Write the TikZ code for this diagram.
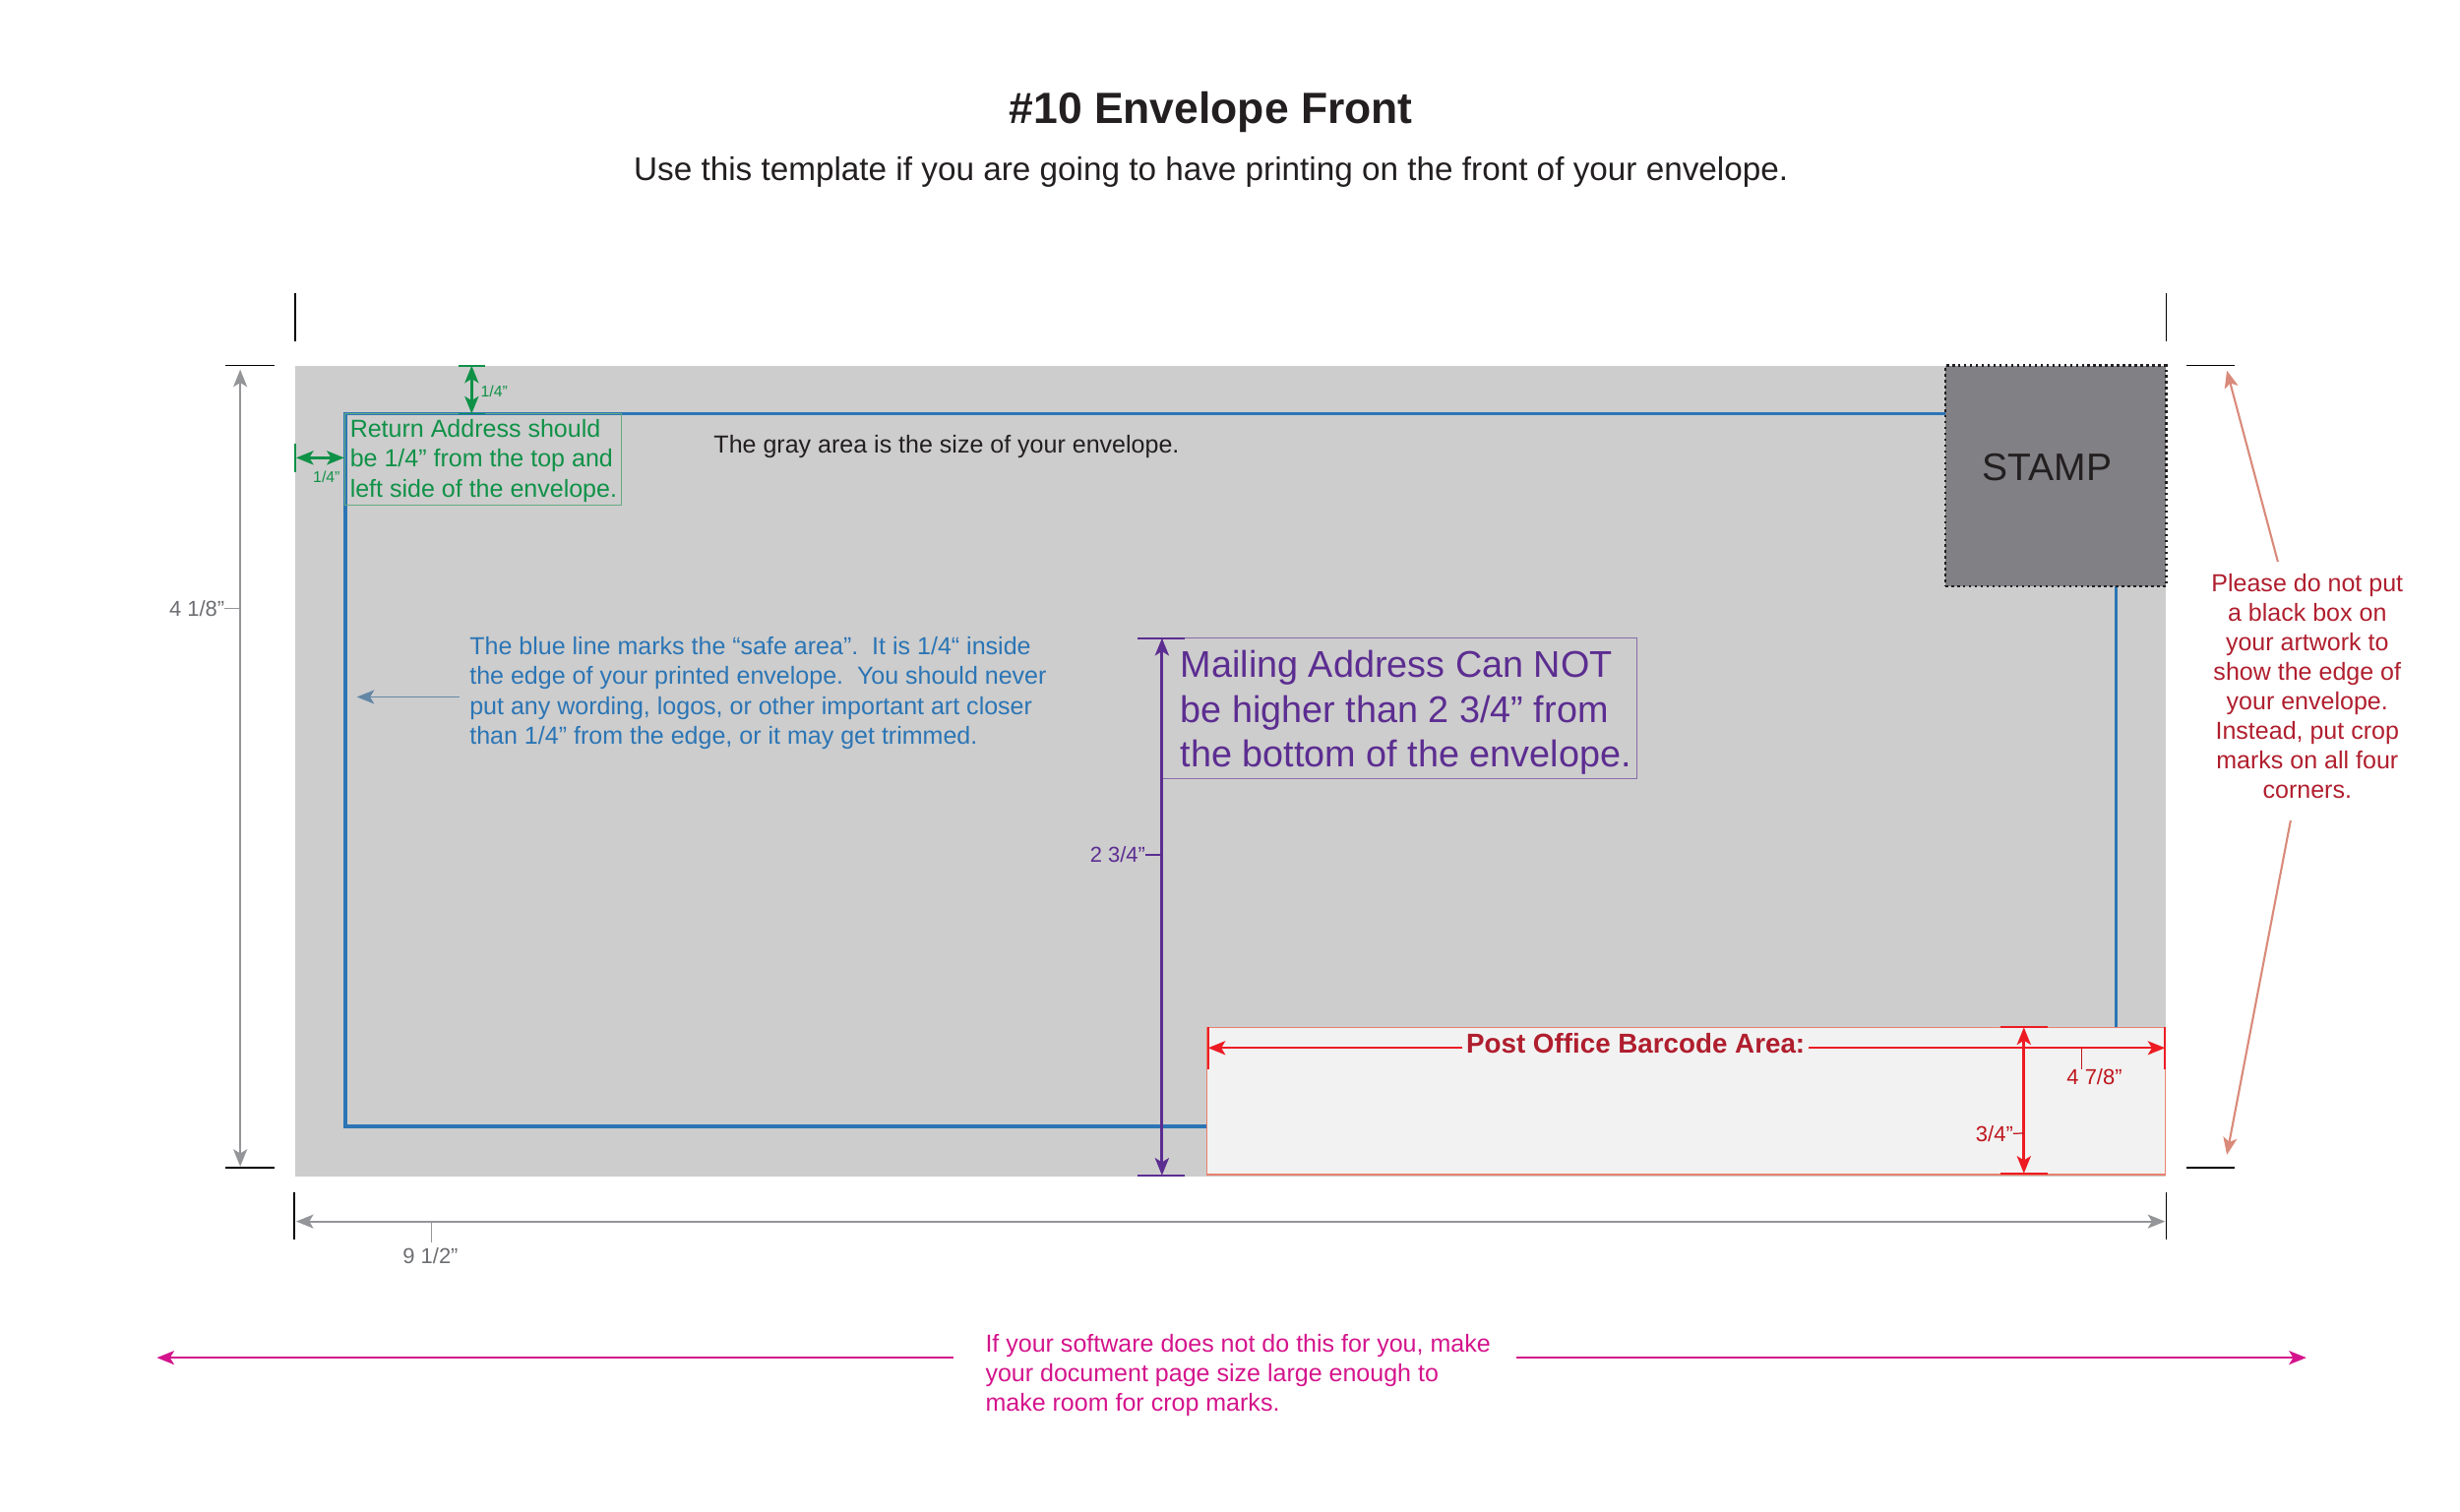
\documentclass[tikz,border=0pt]{standalone}
\usepackage{fontspec}
\setmainfont{Liberation Sans}
\usetikzlibrary{arrows.meta}
\definecolor{cgray}{HTML}{CDCDCD}
\definecolor{cstamp}{HTML}{808085}
\definecolor{cbar}{HTML}{F2F2F2}
\definecolor{cdim}{HTML}{939598}
\definecolor{cdimtxt}{HTML}{6D6E71}
\definecolor{cblue}{HTML}{2B75B5}
\definecolor{cgreen}{HTML}{0F9147}
\definecolor{cpurple}{HTML}{5C2D91}
\definecolor{cred}{HTML}{ED1C24}
\definecolor{cdred}{HTML}{B01E2E}
\definecolor{cpink}{HTML}{D4148C}
\definecolor{csalmon}{HTML}{D98A7A}
\definecolor{credline}{HTML}{E8806F}
\definecolor{cink}{HTML}{231F20}
\newcommand{\fz}[2]{\fontsize{#1pt}{#2pt}\selectfont}
\tikzset{
  x=0.009965cm,y=-0.009965cm,
  txt/.style={inner sep=0pt,outer sep=0pt},
  crop/.style={draw=black,line width=0.45pt},
  tip/.style={-{Stealth[length=5pt,width=4pt,inset=1.2pt]}},
  tips/.style={{Stealth[length=5pt,width=4pt,inset=1.2pt]}-{Stealth[length=5pt,width=4pt,inset=1.2pt]}},
  dimline/.style={draw=cdim,line width=0.6pt},
  thin tick/.style={line width=0.35pt},
}
\begin{document}
\begin{tikzpicture}
\useasboundingbox (0,0) rectangle (2508.78,1541.4);
% envelope
\node[txt,fill=cgray,minimum width=1907*0.28353pt,minimum height=827*0.28353pt,anchor=north west] (env) at (301,373) {};
% safe area line
\coordinate (bTL) at (352,422);
\coordinate (bTR) at (1985,422);
\coordinate (bBL) at (352,1149);
\coordinate (bBR) at (1231,1149);
\coordinate (bRT) at (2158,598);
\coordinate (bRB) at (2158,1048);
\draw[cblue,line width=1pt] (bTR) -- (bTL) -- (bBL) -- (bBR);
\draw[cblue,line width=1pt] (bRT) -- (bRB);
% stamp
\node[txt,fill=cstamp,draw=cink,densely dotted,line width=0.7pt,minimum width=225*0.28353pt,minimum height=225*0.28353pt,anchor=north west] (stampbox) at (1984,373) {};
\node[txt,anchor=west,text=cink,font=\fz{11.1}{13}] (stamp) at (2022,477) {STAMP};
% barcode
\node[txt,fill=cbar,draw=credline,line width=0.4pt,minimum width=977*0.28353pt,minimum height=150*0.28353pt,anchor=north west] (bar) at (1231,1048) {};
% crop marks
\coordinate (c1a) at (301,299); \coordinate (c1b) at (301,348);
\coordinate (c2a) at (2209,299); \coordinate (c2b) at (2209,348);
\coordinate (c3a) at (300,1216); \coordinate (c3b) at (300,1264);
\coordinate (c4a) at (2209,1216); \coordinate (c4b) at (2209,1264);
\coordinate (c5a) at (230,373); \coordinate (c5b) at (280,373);
\coordinate (c6a) at (230,1191); \coordinate (c6b) at (280,1191);
\coordinate (c7a) at (2230,373); \coordinate (c7b) at (2279,373);
\coordinate (c8a) at (2230,1191); \coordinate (c8b) at (2279,1191);
\foreach \n in {1,...,8} {\draw[crop] (c\n a) -- (c\n b);}
% title
\node[txt,text=cink,font=\bfseries\fz{12.65}{15}] (title) at (1235,114) {\#10 Envelope Front};
\node[txt,text=cink,font=\fz{9.47}{12}] (sub) at (1235,176) {Use this template if you are going to have printing on the front of your envelope.};
% gray text
\node[txt,anchor=west,text=cink,font=\fz{7.12}{9}] (graynote) at (728,456) {The gray area is the size of your envelope.};
% return address
\node[txt,anchor=north west,draw=cgreen!55!cgray,line width=0.3pt,minimum width=282*0.28353pt,minimum height=93*0.28353pt] (retbox) at (352,422) {};
\node[txt,anchor=west,align=left,text=cgreen,font=\fz{7.12}{8.65}] (ret) at (357,470) {Return Address should\\be 1/4” from the top and\\left side of the envelope.};
% green dims
\coordinate (gT) at (481,373); \coordinate (gB) at (481,422);
\coordinate (gTa) at (468,373); \coordinate (gTb) at (495,373);
\coordinate (gBa) at (468,422); \coordinate (gBb) at (495,422);
\draw[cgreen,line width=0.8pt,tips] (gT) -- (gB);
\draw[cgreen,line width=0.5pt] (gTa) -- (gTb);
\draw[cgreen,line width=0.5pt] (gBa) -- (gBb);
\node[txt,text=cgreen,font=\fz{4.5}{5}] (g1) at (504,399) {1/4”};
\coordinate (gL) at (302,467); \coordinate (gR) at (351,467);
\coordinate (gLa) at (301,453); \coordinate (gLb) at (301,482);
\draw[cgreen,line width=0.8pt,tips] (gL) -- (gR);
\draw[cgreen,line width=0.5pt] (gLa) -- (gLb);
\node[txt,text=cgreen,font=\fz{4.5}{5}] (g2) at (333,487) {1/4”};
% blue text
\node[txt,anchor=west,align=left,text=cblue,font=\fz{7.12}{8.65}] (bluetxt) at (479,707) {The blue line marks the “safe area”.\ \ It is 1/4“ inside\\the edge of your printed envelope.\ \ You should never\\put any wording, logos, or other important art closer\\than 1/4” from the edge, or it may get trimmed.};
\coordinate (bl1) at (469,711); \coordinate (bl2) at (364,711);
\draw[color=cblue!45!cdim,line width=0.5pt,tip] (bl1) -- (bl2);
% left dim
\coordinate (lT) at (245,377); \coordinate (lB) at (245,1190);
\draw[dimline,tips] (lT) -- (lB);
\node[txt,anchor=east,text=cdimtxt,font=\fz{6.25}{8}] (h) at (229,621) {4 1/8”};
\coordinate (lt) at (245,621);
\draw[cdim,thin tick] (h) -- (lt);
% bottom dim
\coordinate (wL) at (302,1246); \coordinate (wR) at (2208,1246);
\draw[dimline,tips] (wL) -- (wR);
\node[txt,text=cdimtxt,font=\fz{6.25}{8}] (w) at (439,1281) {9 1/2”};
\coordinate (wt) at (440,1246); \coordinate (wb) at (440,1267);
\draw[cdim,thin tick] (wt) -- (wb);
% mailing
\node[txt,anchor=north west,draw=cpurple!60!cgray,line width=0.3pt,minimum width=483*0.28353pt,minimum height=143*0.28353pt] (mailbox) at (1186,651) {};
\node[txt,anchor=west,align=left,text=cpurple,font=\fz{10.75}{13}] (mail) at (1204,727) {Mailing Address Can NOT\\be higher than 2 3/4” from\\the bottom of the envelope.};
\coordinate (pT) at (1185,651); \coordinate (pB) at (1185,1199);
\coordinate (pTa) at (1160,651); \coordinate (pTb) at (1208,651);
\coordinate (pBa) at (1160,1199); \coordinate (pBb) at (1208,1199);
\draw[cpurple,line width=0.9pt,tips] (pT) -- (pB);
\draw[cpurple,line width=0.5pt] (pTa) -- (pTb);
\draw[cpurple,line width=0.5pt] (pBa) -- (pBb);
\node[txt,anchor=east,text=cpurple,font=\fz{6.25}{8}] (m) at (1168,872) {2 3/4”};
\coordinate (mt) at (1185,872);
\draw[cpurple,thin tick] (m) -- (mt);
% barcode dims
\node[txt,inner xsep=1.1pt,text=cdred,font=\bfseries\fz{7.9}{10}] (po) at (1668,1064) {Post Office Barcode Area:};
\coordinate (rL) at (1232,1069); \coordinate (rR) at (2208,1069);
\draw[cred,line width=0.7pt,tip] (rL -| po.west) -- (rL);
\draw[cred,line width=0.7pt,tip] (rR -| po.east) -- (rR);
\coordinate (rLa) at (1232,1048); \coordinate (rLb) at (1232,1091);
\coordinate (rRa) at (2208,1048); \coordinate (rRb) at (2208,1091);
\draw[cred,line width=0.6pt] (rLa) -- (rLb);
\draw[cred,line width=0.6pt] (rRa) -- (rRb);
\coordinate (vT) at (2064,1048); \coordinate (vB) at (2064,1197);
\draw[cred,line width=0.8pt,tips] (vT) -- (vB);
\coordinate (vTa) at (2040,1048); \coordinate (vTb) at (2088,1048);
\coordinate (vBa) at (2040,1197); \coordinate (vBb) at (2088,1197);
\draw[cred,line width=0.6pt] (vTa) -- (vTb);
\draw[cred,line width=0.6pt] (vBa) -- (vBb);
\node[txt,anchor=east,text=cred!80!black,font=\fz{6.25}{8}] (h34) at (2053,1157) {3/4”};
\coordinate (h34t) at (2064,1156);
\draw[cred!80!black,thin tick] (h34) -- (h34t);
\node[txt,text=cred!80!black,font=\fz{6.25}{8}] (w478) at (2136,1098) {4 7/8”};
\coordinate (wta) at (2123,1070); \coordinate (wtb) at (2123,1091);
\draw[cred!80!black,thin tick] (wta) -- (wtb);
% note right
\node[txt,align=center,text=cdred,font=\fz{7.12}{8.52}] (note) at (2353,700) {Please do not put\\a black box on\\your artwork to\\show the edge of\\your envelope.\\Instead, put crop\\marks on all four\\corners.};
\coordinate (s1) at (2323,573); \coordinate (s2) at (2271,378);
\coordinate (s3) at (2336,837); \coordinate (s4) at (2271,1178);
\draw[csalmon,line width=0.6pt,tip] (s1) -- (s2);
\draw[csalmon,line width=0.6pt,tip] (s3) -- (s4);
% pink
\node[txt,anchor=west,align=left,text=cpink,font=\fz{7.12}{8.65}] (pink) at (1005,1403) {If your software does not do this for you, make\\your document page size large enough to\\make room for crop marks.};
\coordinate (k1) at (972,1385); \coordinate (k2) at (160,1385);
\coordinate (k3) at (1546,1385); \coordinate (k4) at (2352,1385);
\draw[cpink,line width=0.6pt,tip] (k1) -- (k2);
\draw[cpink,line width=0.6pt,tip] (k3) -- (k4);
\end{tikzpicture}
\end{document}
